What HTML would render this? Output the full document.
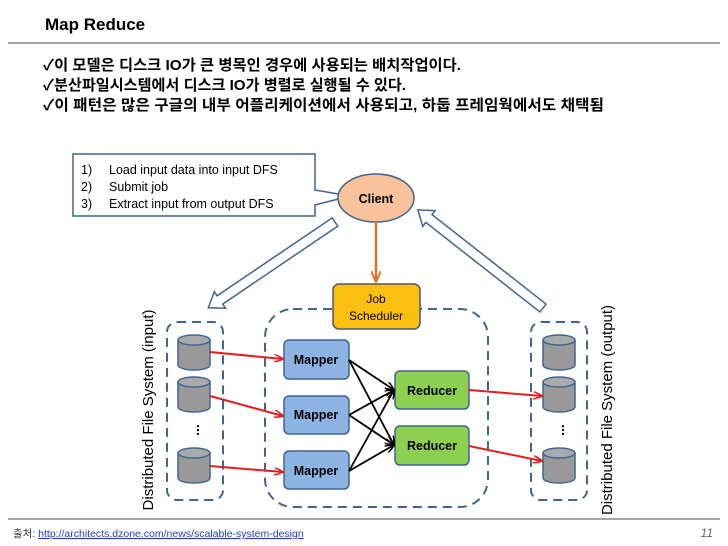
<!DOCTYPE html>
<html><head><meta charset="utf-8"><style>
body{margin:0;width:728px;height:546px;background:#fff;overflow:hidden;font-family:"Liberation Sans","Noto Sans CJK KR",sans-serif}
</style></head><body>
<svg width="728" height="546" xmlns="http://www.w3.org/2000/svg" style="position:absolute;left:0;top:0">
<defs>
<marker id="ar" markerWidth="10" markerHeight="8" refX="9" refY="4" orient="auto" markerUnits="userSpaceOnUse"><path d="M0,0 L10,4 L0,8" fill="none" stroke="#e02020" stroke-width="1.6"/></marker>
<marker id="ab" markerWidth="10" markerHeight="8" refX="9" refY="4" orient="auto" markerUnits="userSpaceOnUse"><path d="M0,0 L10,4 L0,8" fill="none" stroke="#000" stroke-width="1.6"/></marker>
<marker id="ao" markerWidth="12" markerHeight="10" refX="10" refY="5" orient="auto" markerUnits="userSpaceOnUse"><path d="M0,0 L11,5 L0,10" fill="none" stroke="#d9742a" stroke-width="2"/></marker>
<g id="cyl"><path d="M0,5 L0,30 A16,5 0 0 0 32,30 L32,5" fill="#999" stroke="#3f6590" stroke-width="1.5"/><ellipse cx="16" cy="5" rx="16" ry="5" fill="#aaa" stroke="#3f6590" stroke-width="1.5"/></g>
</defs>
<text x="45" y="30" font-size="17" font-weight="bold" fill="#000">Map Reduce</text>
<line x1="8" y1="43" x2="720" y2="43" stroke="#888" stroke-width="1.5"/>
<g font-size="15" font-weight="bold" fill="#000">
<text x="43" y="70" textLength="418" lengthAdjust="spacingAndGlyphs">✓이 모델은 디스크 IO가 큰 병목인 경우에 사용되는 배치작업이다.</text>
<text x="43" y="90" textLength="363" lengthAdjust="spacingAndGlyphs">✓분산파일시스템에서 디스크 IO가 병렬로 실행될 수 있다.</text>
<text x="43" y="110" textLength="561" lengthAdjust="spacingAndGlyphs">✓이 패턴은 많은 구글의 내부 어플리케이션에서 사용되고, 하둡 프레임웍에서도 채택됨</text>
</g>
<path d="M73,154 L315,154 L315,190 L350,196 L315,205 L315,216 L73,216 Z" fill="#fff" stroke="#3f6590" stroke-width="1.5"/>
<g font-size="12.5" fill="#000">
<text x="81" y="174">1)</text><text x="109" y="174">Load input data into input DFS</text>
<text x="81" y="191">2)</text><text x="109" y="191">Submit job</text>
<text x="81" y="208">3)</text><text x="109" y="208">Extract input from output DFS</text>
</g>
<ellipse cx="376" cy="198" rx="38" ry="24" fill="#f8c39c" stroke="#3f6590" stroke-width="1.5"/>
<text x="376" y="203" font-size="12.5" font-weight="bold" text-anchor="middle">Client</text>
<line x1="376" y1="222" x2="376" y2="281" stroke="#d9742a" stroke-width="2.5" marker-end="url(#ao)"/>
<g transform="translate(335,222) rotate(145.9)"><polygon points="0,-5 139,-5 139,-10 153,0 139,10 139,5 0,5" fill="#fff" stroke="#3f6590" stroke-width="1.5"/></g>
<g transform="translate(543,308) rotate(218.1)"><polygon points="0,-5 145,-5 145,-10 159,0 145,10 145,5 0,5" fill="#fff" stroke="#3f6590" stroke-width="1.5"/></g>
<rect x="167" y="322" width="56" height="178" rx="10" fill="none" stroke="#3f6590" stroke-width="2" stroke-dasharray="9,6"/>
<rect x="265" y="309" width="223" height="198" rx="28" fill="none" stroke="#3f6590" stroke-width="2" stroke-dasharray="9,6"/>
<rect x="531" y="322" width="56" height="178" rx="10" fill="none" stroke="#3f6590" stroke-width="2" stroke-dasharray="9,6"/>
<rect x="333" y="284" width="87" height="45" rx="6" fill="#fbbf0f" stroke="#556" stroke-width="1.5"/>
<text x="376" y="303" font-size="12" text-anchor="middle">Job</text>
<text x="376" y="320" font-size="12" text-anchor="middle">Scheduler</text>
<use href="#cyl" x="178" y="335"/><use href="#cyl" x="178" y="377"/><use href="#cyl" x="178" y="448"/>
<use href="#cyl" x="543" y="335"/><use href="#cyl" x="543" y="377"/><use href="#cyl" x="543" y="448"/>
<text x="194" y="435" font-size="14" font-weight="bold" text-anchor="middle" transform="rotate(-90 194 430)">...</text>
<text x="559" y="435" font-size="14" font-weight="bold" text-anchor="middle" transform="rotate(-90 559 430)">...</text>
<g font-size="12.5" font-weight="bold" text-anchor="middle">
<rect x="284" y="340" width="65" height="39" rx="5" fill="#8db3e2" stroke="#3f6590" stroke-width="1.5"/><text x="316" y="364">Mapper</text>
<rect x="284" y="396" width="65" height="38" rx="5" fill="#8db3e2" stroke="#3f6590" stroke-width="1.5"/><text x="316" y="419">Mapper</text>
<rect x="284" y="451" width="65" height="38" rx="5" fill="#8db3e2" stroke="#3f6590" stroke-width="1.5"/><text x="316" y="475">Mapper</text>
<rect x="395" y="371" width="74" height="38" rx="5" fill="#8fcf4f" stroke="#3f6590" stroke-width="1.5"/><text x="432" y="395">Reducer</text>
<rect x="395" y="426" width="74" height="39" rx="5" fill="#8fcf4f" stroke="#3f6590" stroke-width="1.5"/><text x="432" y="450">Reducer</text>
</g>
<g stroke="#e02020" stroke-width="2" marker-end="url(#ar)">
<line x1="210" y1="352" x2="283" y2="359"/><line x1="210" y1="396" x2="283" y2="416"/><line x1="210" y1="466" x2="283" y2="472"/>
<line x1="469" y1="390" x2="542" y2="396"/><line x1="469" y1="446" x2="542" y2="461"/>
</g>
<g stroke="#000" stroke-width="1.8" marker-end="url(#ab)">
<line x1="349" y1="360" x2="394" y2="390"/><line x1="349" y1="360" x2="394" y2="445"/>
<line x1="349" y1="415" x2="394" y2="390"/><line x1="349" y1="415" x2="394" y2="445"/>
<line x1="349" y1="471" x2="394" y2="390"/><line x1="349" y1="471" x2="394" y2="445"/>
</g>
<text x="0" y="0" font-size="15" text-anchor="middle" transform="translate(153,410) rotate(-90)">Distributed File System (input)</text>
<text x="0" y="0" font-size="15" text-anchor="middle" transform="translate(612,410) rotate(-90)">Distributed File System (output)</text>
<line x1="8" y1="519" x2="720" y2="519" stroke="#888" stroke-width="1.5"/>
<text x="13" y="537" font-size="10.5" fill="#333">출처: <tspan fill="#1f3fbf" text-decoration="underline">http://architects.dzone.com/news/scalable-system-design</tspan></text>
<text x="713" y="537" font-size="12" font-style="italic" fill="#666" text-anchor="end">11</text>
</svg>
</body></html>
